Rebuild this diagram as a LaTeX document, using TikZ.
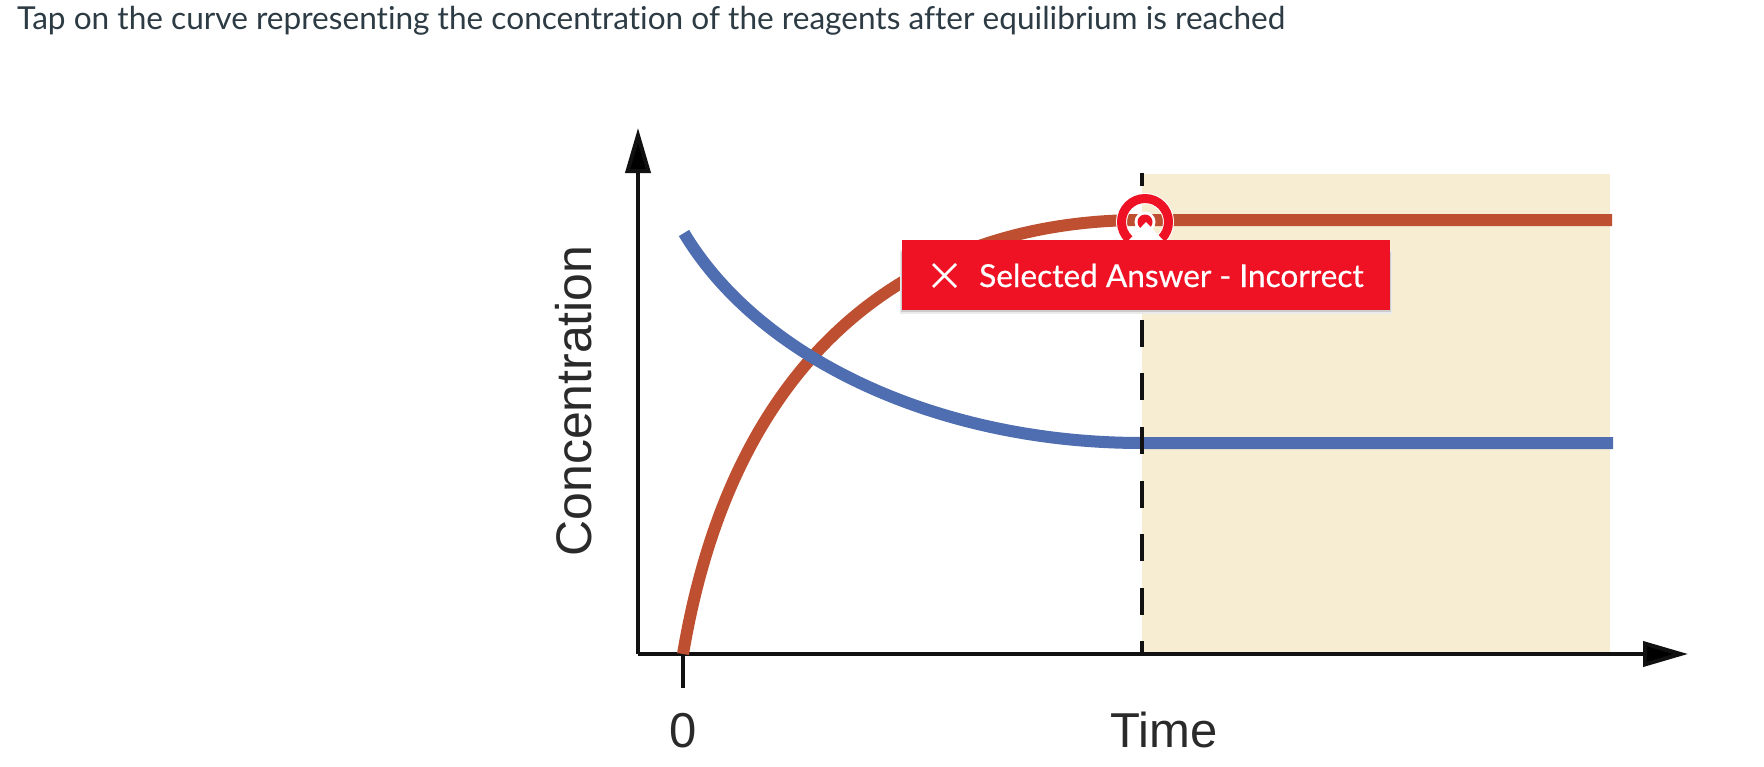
\documentclass[tikz,border=0pt]{standalone}
\usepackage{fontspec}
\setmainfont[Ligatures=CommonOff]{Lato}
\newfontfamily\chartfont{Liberation Sans}
\newfontfamily\alertfont[Ligatures=CommonOff,FakeBold=0.6]{Lato}
\usetikzlibrary{arrows.meta}
\definecolor{titlecol}{HTML}{2D3B45}
\definecolor{alertred}{HTML}{EE1224}
\definecolor{beige}{HTML}{F7EDD3}
\definecolor{rustcurve}{HTML}{BE5031}
\definecolor{bluecurve}{HTML}{4F6DB1}
\definecolor{axisink}{HTML}{111111}
\definecolor{labelink}{HTML}{2A2A2A}
\tikzset{
  x=1pt,y=-1pt,
  axisline/.style={draw=axisink,line width=4pt,-{Triangle[length=45pt,width=25pt,fill=black]}},
  tickline/.style={draw=axisink,line width=4pt},
  dashline/.style={draw=axisink,line width=4.2pt,dash pattern=on 27pt off 26.6pt,dash phase=14pt},
  curvered/.style={draw=rustcurve,line width=12pt},
  curveblue/.style={draw=bluecurve,line width=12pt},
  chartlabel/.style={font=\chartfont\fontsize{49}{49}\selectfont,text=labelink,inner sep=0pt},
  titletext/.style={font=\fontsize{31.6}{36}\selectfont,text=titlecol,inner sep=0pt,anchor=base west},
  alertbox/.style={fill=alertred,draw=none},
  alerttext/.style={font=\alertfont\fontsize{31.6}{36}\selectfont,text=white,inner sep=0pt,anchor=base west},
}
\begin{document}
\begin{tikzpicture}
\useasboundingbox (0,0) rectangle (1764,766);
\fill[white] (0,0) rectangle (1764,766);
\node[titletext] (title) at (17,29) {Tap on the curve representing the concentration of the reagents after equilibrium is reached};
% shaded equilibrium region
\fill[beige] (1142,174) rectangle (1610,654);
% axes
\coordinate (origin) at (638,654);
\coordinate (ytop) at (638,128);
\coordinate (xend) at (1688,654);
\coordinate (tickbase) at (683,654);
\coordinate (tickend) at (683,688);
\coordinate (dashtop) at (1142,173);
\coordinate (dashbase) at (1142,654);
% curves
\coordinate (redstart) at (683,654);
\coordinate (redknee) at (1142,220);
\coordinate (redend) at (1612,220);
\coordinate (bluestart) at (684,233);
\coordinate (blueknee) at (1142,443);
\coordinate (blueend) at (1613,443);
\draw[tickline] (tickbase) -- (tickend);
\draw[axisline] (origin) -- (ytop);
\draw[axisline] (origin) -- (xend);
\draw[curvered] (redstart) .. controls (735,345) and (920,220) .. (redknee) -- (redend);
\draw[curveblue] (bluestart) .. controls (760,360) and (940,443) .. (blueknee) -- (blueend);
\draw[dashline] (dashtop) -- (dashbase);
% labels
\node[chartlabel,anchor=base] (zero) at (683,747) {0};
\node[chartlabel,anchor=base] (timelabel) at (1164,747) {Time};
\node[chartlabel,anchor=base,rotate=90,font=\chartfont\fontsize{50}{50}\selectfont] (conc) at (591,401) {Concentration};
% target marker
\coordinate (mark) at (1145,222);
\draw[white,line width=11pt] (mark) circle (23.5);
\draw[alertred,line width=9pt] (mark) circle (23.5);
\fill[white] (mark) circle (10.5);
\fill[alertred] (mark) circle (7.5);
\fill[white] (1146,222) -- (1164,241) -- (1128,241) -- cycle;
% alert
\fill[black!8] (900,250) rectangle (1392,314);
\fill[black!20] (901,252) rectangle (1391,312);
\node[alertbox,minimum width=488pt,minimum height=70pt,inner sep=0pt,anchor=north west] (alert) at (902,240) {};
\coordinate (xa) at (933,264);
\coordinate (xb) at (956,287);
\coordinate (xc) at (956,264);
\coordinate (xd) at (933,287);
\draw[white,line width=2.8pt] (xa) -- (xb) (xc) -- (xd);
\node[alerttext] (alertlabel) at (979,287) {Selected Answer - Incorrect};
\end{tikzpicture}
\end{document}
